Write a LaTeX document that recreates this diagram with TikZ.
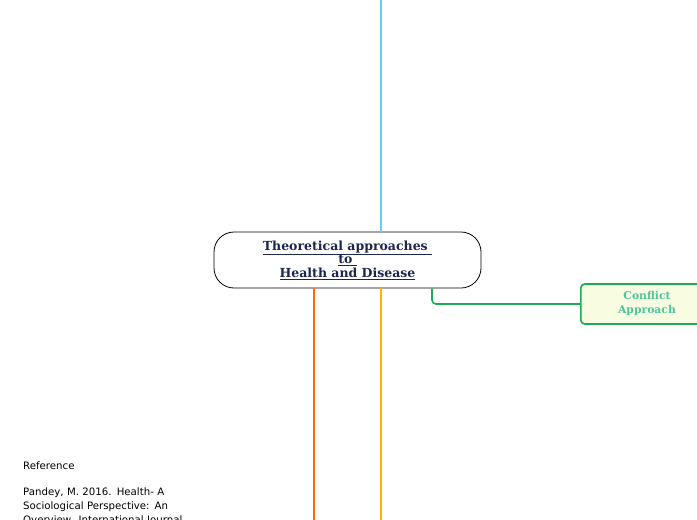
\documentclass[tikz,border=0pt]{standalone}
\usepackage{fontspec}
\setmainfont{DejaVu Serif}
\newfontfamily\verd{DejaVu Sans}
\definecolor{gline}{HTML}{1EAA55}
\definecolor{gtext}{HTML}{4FC39A}
\definecolor{gfill}{HTML}{F8FDE2}
\definecolor{navy}{HTML}{1A2550}
\begin{document}
\begin{tikzpicture}[x=1pt,y=-1pt,
  conn/.style={line width=1.6pt},
  mainbox/.style={draw=black, line width=0.8pt, rounded corners=20pt, fill=white, minimum width=267pt, minimum height=56pt},
  titletext/.style={align=center, font=\bfseries\fontsize{12.5}{13.5}\selectfont, text=navy},
  subbox/.style={draw=gline, line width=1.6pt, rounded corners=4pt, fill=gfill, minimum width=130pt, minimum height=40pt},
  subtext/.style={align=center, font=\bfseries\fontsize{10.8}{14}\selectfont, text=gtext}]
\useasboundingbox (0,0) rectangle (697,520);
\coordinate (top) at (381,0);
\coordinate (b1) at (314,520);
\coordinate (b2) at (381,520);
\node[mainbox] (main) at (347.5,260) {};
\node[titletext] (title) at (347.5,260) {\underline{Theoretical approaches\ }\\\underline{to\ }\\\underline{Health and Disease}};
\node[subbox, anchor=west] (conf) at (580,304) {};
\node[subtext] (conft) at (647,304) {Conflict\\Approach};
\draw[conn, cyan!60] (top) -- (main.north -| top);
\draw[conn, orange!85!red] (main.south -| b1) -- (b1);
\draw[conn, orange!60!yellow] (main.south -| b2) -- (b2);
\draw[conn, gline, rounded corners=4pt] (main.south -| 432,0) |- (conf.west);
\node[anchor=north west, align=left, text width=180pt, font=\verd\fontsize{10.2}{14}\selectfont, inner sep=0pt] (ref) at (23,462) {Reference\\[12pt]Pandey, M. 2016. Health- A\\Sociological Perspective: An\\Overview. International Journal};
\end{tikzpicture}
\end{document}
